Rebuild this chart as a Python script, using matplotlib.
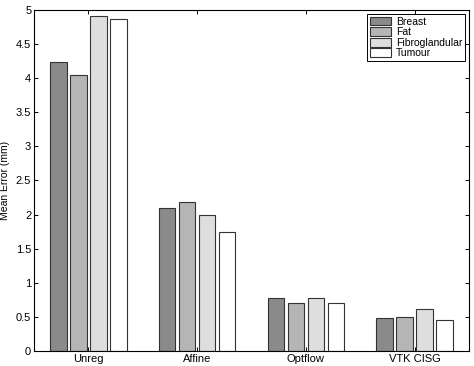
import matplotlib
matplotlib.use('Agg')
import matplotlib.pyplot as plt
import numpy as np

# данные
methods = ['Unreg', 'Affine', 'Optflow', 'VTK CISG']
tissues = ['Breast', 'Fat', 'Fibroglandular', 'Tumour']
breast = [4.24, 2.09, 0.78, 0.49]
fat = [4.04, 2.18, 0.71, 0.50]
fibro = [4.91, 2.00, 0.77, 0.62]
tumour = [4.87, 1.74, 0.70, 0.45]
colors = ['#8a8a8a', '#b5b5b5', '#dedede', '#ffffff']

plt.rcParams['font.family'] = ['Liberation Sans', 'DejaVu Sans']

fig = plt.figure(figsize=(4.74, 3.66), dpi=100)
ax = fig.add_axes([34 / 474, 15 / 366, 435 / 474, 341 / 366])

x = np.arange(1, len(methods) + 1)
pitch = 0.184
width = 0.15
series = [breast, fat, fibro, tumour]
for i, (vals, name) in enumerate(zip(series, tissues)):
    ax.bar(x + (i - 1.5) * pitch, vals, width, color=colors[i],
           edgecolor='#333333', linewidth=0.8, label=name)

ax.set_xlim(0.5, 4.5)
ax.set_ylim(0, 5)
ax.set_xticks(x)
ax.set_xticklabels(methods, fontsize=8)
yt = np.arange(0, 5.01, 0.5)
ax.set_yticks(yt)
ax.set_yticklabels([f'{v:g}' for v in yt], fontsize=8)
ax.set_ylabel('Mean Error (mm)', fontsize=7.5, labelpad=4)
ax.tick_params(direction='in', top=True, right=True, length=3, width=0.7, pad=2)
for s in ax.spines.values():
    s.set_linewidth(0.8)

leg = ax.legend(loc='upper right', fontsize=7.5, fancybox=False, edgecolor='black',
                framealpha=1, borderaxespad=0.4, handlelength=2.0, handleheight=0.9,
                labelspacing=0.05, borderpad=0.25, handletextpad=0.5)
leg.get_frame().set_linewidth(0.7)

fig.savefig('out.png', dpi=100)
